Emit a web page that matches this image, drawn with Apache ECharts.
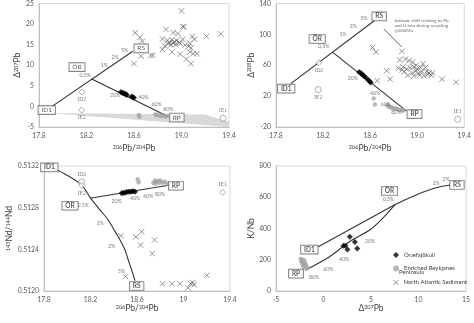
<!DOCTYPE html>
<html><head><meta charset="utf-8">
<script src="https://cdn.jsdelivr.net/npm/echarts@6/dist/echarts.min.js"></script>
<style>html,body{margin:0;padding:0;background:#fff}#c{width:474px;height:323px}</style>
</head><body><div id="c"></div>
<script>
// ---------- tick labels ----------
const pbTicks = [17.8, 18.2, 18.6, 19.0, 19.4];
const p1YTicks = [-5, 0, 5, 10, 15, 20, 25];
const p2YTicks = [-20, 20, 60, 100, 140];
const p3YTicks = [0.5120, 0.5124, 0.5128, 0.5132];
const p4XTicks = [-5, 0, 5, 10, 15];
const p4YTicks = [0, 200, 400, 600, 800];

// ---------- panel 1 : D207Pb vs 206Pb/204Pb ----------
const p1LineAX = [17.91, 18.59], p1LineAY = [0.0, 13.4];
const p1LineBX = [18.24, 18.89], p1LineBY = [6.7, -2.5];
const p1BoxNames = ['ID1', 'ÖR', 'RS', 'RP'];
const p1BoxX = [17.865, 18.12, 18.66, 18.96];
const p1BoxY = [-0.9, 9.55, 14.1, -2.7];
const p1PctNames = ['0.5%', '1%', '2%', '5%', '20%', '40%', '60%', '80%'];
const p1PctX = [18.19, 18.35, 18.44, 18.52, 18.44, 18.68, 18.79, 18.89];
const p1PctY = [7.5, 9.9, 12.0, 13.6, 2.7, 2.3, 0.5, -0.7];
const p1DiaX = [18.49, 18.50, 18.51, 18.52, 18.53, 18.54, 18.58, 18.59, 18.60];
const p1DiaY = [3.5, 3.35, 3.2, 3.1, 3.0, 2.8, 2.4, 2.25, 2.1];
const p1GreyX = [18.64, 18.645, 18.78, 18.79, 18.81, 18.83, 18.845, 18.86, 18.875];
const p1GreyY = [-2.1, -2.5, -1.95, -2.1, -2.2, -2.3, -2.1, -2.45, -2.3];
const p1CrossX = [19.00,19.01,19.02,18.87,18.93,18.97,18.61,18.65,18.67,18.84,18.88,18.90,18.92,18.94,18.96,18.98,19.01,19.09,19.11,19.21,19.33,18.86,18.89,18.91,18.93,18.95,18.99,19.03,19.06,19.08,19.07,18.84,18.92,18.99,19.07,19.10,19.13,19.04,19.08,18.76,18.74,18.66,18.60];
const p1CrossY = [23.2,19.4,19.3,18.7,17.9,17.7,17.9,16.8,15.8,16.4,16.0,15.6,16.2,15.7,16.0,15.5,16.3,17.0,16.3,17.0,17.6,14.7,15.2,15.0,15.4,15.0,15.3,14.9,14.6,14.2,15.3,13.8,13.2,12.7,13.2,12.8,12.8,11.5,10.4,12.4,12.4,12.2,10.4];
const p1SampNames = ['ID2', 'IE2', 'IE1'];
const p1SampX = [18.16, 18.16, 19.35];
const p1SampY = [3.5, -0.9, -2.9];
const p1SampSym = ['diamond', 'diamond', 'circle'];
const p1SampPos = ['bottom', 'bottom', 'top'];
const p1BandX = [17.88, 19.2, 19.4, 19.4];
const p1BandY = [-1.6, -1.95, -3.7, -5.0];

// ---------- panel 2 : D208Pb vs 206Pb/204Pb ----------
const p2LineAX = [17.926, 18.635], p2LineAY = [36.2, 117.7];
const p2LineBX = [18.28, 18.91], p2LineBY = [77.0, 0.6];
const p2BoxNames = ['ID1', 'ÖR', 'RS', 'RP'];
const p2BoxX = [17.887, 18.15, 18.677, 18.977];
const p2BoxY = [29.7, 94.1, 123.3, -3.3];
const p2PctNames = ['0.5%', '1%', '2%', '5%', '20%', '40%', '60%', '80%'];
const p2PctX = [18.206, 18.369, 18.458, 18.548, 18.453, 18.643, 18.733, 18.823];
const p2PctY = [84.7, 100.5, 110.4, 120.7, 43.5, 24.2, 9.6, -0.7];
const p2DiaX = [18.506, 18.517, 18.528, 18.537, 18.55, 18.565, 18.585, 18.596, 18.604];
const p2DiaY = [51.2, 49.9, 49.0, 47.3, 45.6, 43.9, 40.5, 39.2, 37.5];
const p2GreyX = [18.63, 18.64, 18.747, 18.755, 18.767, 18.78, 18.79, 18.81, 18.82, 18.83, 18.85, 18.87, 18.88];
const p2GreyY = [16.9, 9.2, 8.3, 6.5, 6.2, 5.0, 5.3, 4.0, 3.5, 3.2, 1.9, 1.9, 1.0];
const p2CrossX = [18.62,18.65,18.87,18.74,18.77,18.66,18.85,18.90,18.93,18.96,18.99,19.05,19.07,18.84,18.88,18.91,18.94,18.97,19.00,19.03,19.08,19.10,19.12,19.01,18.96,18.89,18.92,18.97,19.02,19.06,19.09,19.13,18.99,19.04,18.87,19.21,19.33];
const p2CrossY = [83,77,78,53,42,40,67,68,66,64,60,62,57,56,58,55,57,58,55,57,52,50,47,49,50,52,47,46,47,46,48,50,53,52,54,42,38];
const p2SampNames = ['ID2', 'IE2', 'IE1'];
const p2SampX = [18.164, 18.159, 19.344];
const p2SampY = [63.2, 28.5, -10.1];
const p2SampSym = ['diamond', 'circle', 'circle'];
const p2SampPos = ['bottom', 'bottom', 'top'];
const p2NoteText = 'Isotopic shift relating to Pb\nand U loss during recycling\n@450Ma';
const p2NoteX = 18.806, p2NoteY = 120.7;
const p2ArrowX = [18.716, 18.87], p2ArrowY = [107, 83.4];

// ---------- panel 3 : 143Nd/144Nd vs 206Pb/204Pb ----------
const p3CurveX = [17.88, 17.995, 18.124, 18.196, 18.282, 18.353, 18.411, 18.454, 18.497, 18.525, 18.554, 18.583];
const p3CurveY = [0.513178, 0.513114, 0.513018, 0.512899, 0.512778, 0.512682, 0.51257, 0.51249, 0.512394, 0.512298, 0.512202, 0.512099];
const p3LineBX = [18.196, 18.884], p3LineBY = [0.51289, 0.513018];
const p3BoxNames = ['ID1', 'ÖR', 'RS', 'RP'];
const p3BoxX = [17.846, 18.024, 18.597, 18.935];
const p3BoxY = [0.513187, 0.512819, 0.512048, 0.513011];
const p3PctNames = ['0.5%', '1%', '2%', '5%', '20%', '40%', '60%', '80%'];
const p3PctX = [18.138, 18.282, 18.382, 18.468, 18.425, 18.583, 18.697, 18.798];
const p3PctY = [0.512819, 0.51265, 0.512426, 0.512192, 0.512858, 0.51289, 0.512912, 0.512928];
const p3DiaX = [18.468, 18.482, 18.497, 18.511, 18.525, 18.54, 18.554, 18.568, 18.583];
const p3DiaY = [0.512938, 0.512944, 0.512944, 0.51295, 0.512954, 0.512952, 0.512955, 0.512957, 0.512954];
const p3GreyX = [18.606, 18.614, 18.74, 18.755, 18.77, 18.79, 18.80, 18.82, 18.84, 18.86, 18.76, 18.78];
const p3GreyY = [0.513072, 0.513043, 0.51304, 0.51306, 0.51305, 0.51304, 0.51306, 0.51304, 0.51305, 0.51303, 0.51303, 0.513055];
const p3CrossX = [18.46, 18.59, 18.64, 18.63, 18.75, 18.73, 18.50, 18.82, 18.90, 18.97, 19.06, 19.08, 19.09, 19.04, 19.20];
const p3CrossY = [0.51253, 0.51252, 0.51257, 0.51244, 0.51249, 0.51236, 0.51214, 0.51207, 0.51207, 0.51207, 0.51207, 0.51208, 0.51206, 0.51203, 0.51215];
const p3SampNames = ['ID2', 'IE2', 'IE1'];
const p3SampX = [18.124, 18.124, 19.337];
const p3SampY = [0.513046, 0.513014, 0.512947];
const p3SampSym = ['circle', 'diamond', 'diamond'];
const p3SampPos = ['top', 'bottom', 'top'];

// ---------- panel 4 : K/Nb vs D207Pb ----------
const p4UpperX = [-0.55, 7.55], p4UpperY = [283, 554];
const p4LowerX = [-1.94, 0.6, 2.8, 4.9, 6.3, 7.55];
const p4LowerY = [133, 218, 318, 392, 470, 554];
const p4RightX = [7.55, 9.13, 10.89, 12.29, 13.35];
const p4RightY = [554, 599, 642, 667, 678];
const p4BoxNames = ['ÖR', 'RS', 'ID1', 'RP'];
const p4BoxX = [6.95, 14.05, -1.49, -2.89];
const p4BoxY = [639.6, 678, 265, 111];
const p4PctNames = ['0.5%', '1%', '2%', '20%', '40%', '60%', '80%'];
const p4PctX = [6.85, 11.84, 12.89, 4.91, 2.17, 0.52, -0.99];
const p4PctY = [586, 689, 714, 319, 205, 137, 90];
const p4DiaX = [2.77, 2.1, 2.3, 2.52, 3.3, 3.55];
const p4DiaY = [347, 289, 289, 265, 314, 272];
const p4GreyX = [-2.4, -2.2, -2.0, -2.3, -2.1, -1.9, -2.2, -2.0, -1.8, -1.9, -2.1, -1.7, -2.3];
const p4GreyY = [205, 200, 195, 190, 180, 175, 170, 165, 160, 150, 155, 145, 185];

const legendNames = ['Öræfajökull', 'Enriched Reykjanes Peninsula', 'North Atlantic Sediment'];

// ---------- helpers ----------
const FONT = 'Lato';
const zip = (xs, ys) => xs.map((x, i) => [x, ys[i]]);
const CROSS = 'path://M0,0L10,10M10,0L0,10';

function lineS(xs, ys, gi, smooth) {
  return { type: 'line', xAxisIndex: gi, yAxisIndex: gi, data: zip(xs, ys), symbol: 'none',
    smooth: smooth || false, lineStyle: { color: '#333', width: 1.1 }, silent: true, z: 3, animation: false };
}
function diaS(xs, ys, gi) {
  return { type: 'scatter', name: legendNames[0], xAxisIndex: gi, yAxisIndex: gi, data: zip(xs, ys),
    symbol: 'diamond', symbolSize: 6, itemStyle: { color: '#000' }, z: 5, animation: false };
}
function greyS(xs, ys, gi) {
  return { type: 'scatter', name: legendNames[1], xAxisIndex: gi, yAxisIndex: gi, data: zip(xs, ys),
    symbol: 'circle', symbolSize: 4.5, itemStyle: { color: '#a6a6a6' }, z: 4, animation: false };
}
function crossS(xs, ys, gi) {
  return { type: 'scatter', name: legendNames[2], xAxisIndex: gi, yAxisIndex: gi, data: zip(xs, ys),
    symbol: CROSS, symbolSize: 5.5, itemStyle: { color: 'rgba(0,0,0,0)', borderColor: '#595959', borderWidth: 0.8 }, z: 4, animation: false };
}
function boxS(names, xs, ys, gi, bold) {
  return { type: 'scatter', xAxisIndex: gi, yAxisIndex: gi, silent: true, animation: false,
    data: names.map((n, i) => ({ name: n, value: [xs[i], ys[i]] })), symbolSize: 0, z: 10,
    label: { show: true, position: 'inside', formatter: '{b}', fontFamily: FONT, fontSize: 6.5,
      fontWeight: bold ? 'bold' : 'normal', color: '#333', backgroundColor: '#fff',
      borderColor: '#595959', borderWidth: 0.8, padding: [1, 3, 0, 3] } };
}
function pctS(names, xs, ys, gi) {
  return { type: 'scatter', xAxisIndex: gi, yAxisIndex: gi, silent: true, animation: false,
    data: names.map((n, i) => ({ name: n, value: [xs[i], ys[i]] })), symbolSize: 0, z: 9,
    label: { show: true, position: 'inside', formatter: '{b}', fontFamily: FONT, fontSize: 5.2, color: '#595959' } };
}
function sampS(names, xs, ys, syms, pos, gi) {
  return { type: 'scatter', xAxisIndex: gi, yAxisIndex: gi, silent: true, animation: false, z: 6,
    data: names.map((n, i) => ({ name: n, value: [xs[i], ys[i]], symbol: syms[i], label: { position: pos[i] } })),
    symbolSize: 6, itemStyle: { color: '#fff', borderColor: '#7f7f7f', borderWidth: 0.8 },
    label: { show: true, formatter: '{b}', distance: 1.5, fontFamily: 'Liberation Serif', fontSize: 5.5, color: '#595959' } };
}
const rich = { n: { fontFamily: FONT, fontSize: 8.5, color: '#404040' }, s: { fontFamily: FONT, fontSize: 5.5, color: '#404040', verticalAlign: 'top', padding: [0, 0, 3, 0] } };
function axBase(gi, min, max, ticks, fmt, name, gap) {
  return { type: 'value', gridIndex: gi, min: min, max: max,
    axisLine: { show: true, onZero: false, lineStyle: { color: '#bfbfbf', width: 1 } },
    axisTick: { show: false }, splitLine: { show: false },
    axisLabel: { customValues: ticks, formatter: fmt, fontFamily: FONT, fontSize: 6.8, color: '#595959', margin: 5 },
    name: name, nameLocation: 'middle', nameGap: gap, nameTextStyle: { rich: rich } };
}
const f1 = v => Number(v).toFixed(1);
const f4 = v => Number(v).toFixed(4);
const f0 = v => String(Math.round(v * 1000) / 1000);

const pbName = '{s|206}{n|Pb/}{s|204}{n|Pb}';
const legText = { fontFamily: FONT, fontSize: 6, color: '#404040' };

const option = {
  animation: false,
  textStyle: { fontFamily: FONT },
  grid: [
    { left: 39, top: 3, width: 190, height: 124, show: true, borderColor: '#d9d9d9', borderWidth: 1 },
    { left: 276, top: 3, width: 190, height: 124, show: true, borderColor: '#d9d9d9', borderWidth: 1 },
    { left: 44, top: 166, width: 186, height: 125, show: true, borderColor: '#d9d9d9', borderWidth: 1 },
    { left: 276, top: 166, width: 190, height: 125, show: true, borderColor: '#d9d9d9', borderWidth: 1 }
  ],
  xAxis: [
    axBase(0, 17.8, 19.4, pbTicks, f1, pbName, 17),
    axBase(1, 17.8, 19.4, pbTicks, f1, pbName, 17),
    axBase(2, 17.8, 19.4, pbTicks, f0, pbName, 11),
    axBase(3, -5, 15, p4XTicks, f0, '{n|Δ}{s|207}{n|Pb}', 11)
  ],
  yAxis: [
    axBase(0, -5, 25, p1YTicks, f0, '{n|Δ}{s|207}{n|Pb}', 13),
    axBase(1, -20, 140, p2YTicks, f0, '{n|Δ}{s|208}{n|Pb}', 15),
    axBase(2, 0.5120, 0.5132, p3YTicks, f4, '{s|143}{n|Nd/}{s|144}{n|Nd}', 30),
    axBase(3, 0, 800, p4YTicks, f0, '{n|K/Nb}', 19)
  ],
  legend: [
    { data: [legendNames[0]], left: 388, top: 247, itemWidth: 6, itemHeight: 6, selectedMode: false, textStyle: legText },
    { data: [legendNames[1]], left: 388, top: 260.5, itemWidth: 6, itemHeight: 6, selectedMode: false,
      formatter: () => 'Enriched Reykjanes', textStyle: legText },
    { data: [{ name: legendNames[2], itemStyle: { borderWidth: 0.8, borderColor: '#595959', color: 'rgba(0,0,0,0)' } }],
      left: 388, top: 274.5, itemWidth: 5, itemHeight: 5, selectedMode: false, textStyle: legText }
  ],
  graphic: [
    { type: 'text', left: 399, top: 269.5, style: { text: 'Peninsula', fontFamily: FONT, fontSize: 6, fill: '#404040' } }
  ],
  series: [
    // panel 1
    { type: 'custom', xAxisIndex: 0, yAxisIndex: 0, silent: true, z: 1, animation: false,
      data: [[p1BandX[0], p1BandY[0]]],
      renderItem: (params, api) => ({ type: 'polygon',
        shape: { points: p1BandX.map((x, i) => api.coord([x, p1BandY[i]])) },
        style: { fill: '#d9d9d9' } }) },
    lineS(p1LineAX, p1LineAY, 0), lineS(p1LineBX, p1LineBY, 0),
    crossS(p1CrossX, p1CrossY, 0), greyS(p1GreyX, p1GreyY, 0), diaS(p1DiaX, p1DiaY, 0),
    sampS(p1SampNames, p1SampX, p1SampY, p1SampSym, p1SampPos, 0),
    pctS(p1PctNames, p1PctX, p1PctY, 0), boxS(p1BoxNames, p1BoxX, p1BoxY, 0, false),
    // panel 2
    lineS(p2LineAX, p2LineAY, 1), lineS(p2LineBX, p2LineBY, 1),
    { type: 'line', xAxisIndex: 1, yAxisIndex: 1, data: zip(p2ArrowX, p2ArrowY), symbol: 'none',
      lineStyle: { color: '#404040', width: 0.8 }, silent: true, animation: false },
    crossS(p2CrossX, p2CrossY, 1), greyS(p2GreyX, p2GreyY, 1), diaS(p2DiaX, p2DiaY, 1),
    sampS(p2SampNames, p2SampX, p2SampY, p2SampSym, p2SampPos, 1),
    pctS(p2PctNames, p2PctX, p2PctY, 1), boxS(p2BoxNames, p2BoxX, p2BoxY, 1, true),
    { type: 'scatter', xAxisIndex: 1, yAxisIndex: 1, silent: true, animation: false, symbolSize: 0,
      data: [{ name: p2NoteText, value: [p2NoteX, p2NoteY] }],
      label: { show: true, position: [0, 0], align: 'left', verticalAlign: 'top', formatter: '{b}',
        fontFamily: FONT, fontSize: 4.6, lineHeight: 4.9, color: '#404040' } },
    // panel 3
    lineS(p3CurveX, p3CurveY, 2, 0.3), lineS(p3LineBX, p3LineBY, 2),
    crossS(p3CrossX, p3CrossY, 2), greyS(p3GreyX, p3GreyY, 2), diaS(p3DiaX, p3DiaY, 2),
    sampS(p3SampNames, p3SampX, p3SampY, p3SampSym, p3SampPos, 2),
    pctS(p3PctNames, p3PctX, p3PctY, 2), boxS(p3BoxNames, p3BoxX, p3BoxY, 2, true),
    // panel 4
    lineS(p4UpperX, p4UpperY, 3), lineS(p4LowerX, p4LowerY, 3, 0.3), lineS(p4RightX, p4RightY, 3, 0.3),
    greyS(p4GreyX, p4GreyY, 3), diaS(p4DiaX, p4DiaY, 3),
    pctS(p4PctNames, p4PctX, p4PctY, 3), boxS(p4BoxNames, p4BoxX, p4BoxY, 3, true)
  ]
};
const chart = echarts.init(document.getElementById('c'), null, { renderer: 'canvas' });
chart.setOption(option);
</script></body></html>
